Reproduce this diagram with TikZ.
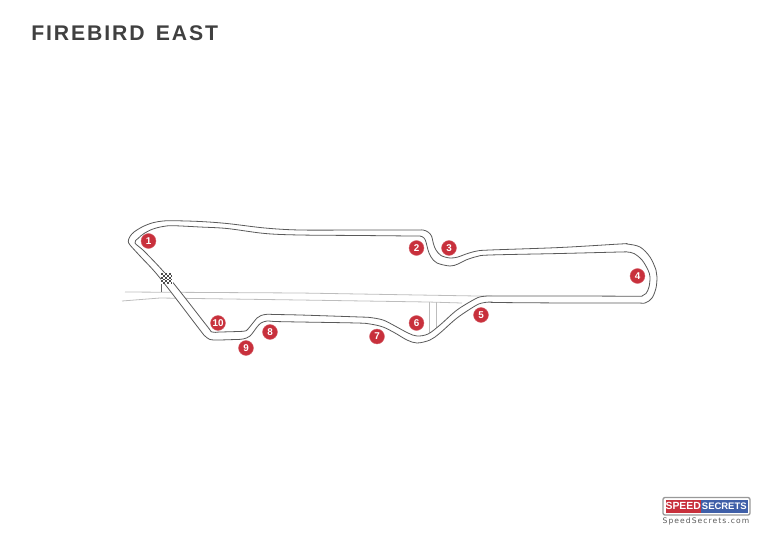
\documentclass[tikz,border=0pt]{standalone}
\usepackage{fontspec}
\setmainfont{Liberation Sans}
\newfontfamily\titlefont[LetterSpace=9]{Liberation Sans}
\newfontfamily\urlfont[LetterSpace=14]{DejaVu Sans}
\definecolor{trackc}{HTML}{5A5A5A}
\definecolor{roadc}{HTML}{BDBDBD}
\definecolor{badgec}{HTML}{C8303C}
\definecolor{logored}{HTML}{C8303C}
\definecolor{logoblue}{HTML}{3F5FA8}
\tikzset{
  track/.style={draw=trackc,line width=0.6pt,fill=white,even odd rule},
  road/.style={draw=roadc,line width=0.6pt},
  badge/.style={circle,fill=badgec,draw=badgec!75!white,line width=0.3pt,minimum size=11.2pt,inner sep=0pt,text=white,font=\fontsize{7.4}{8}\selectfont\bfseries},
  pole/.style={draw=black!60,line width=0.4pt}
}
\begin{document}
\begin{tikzpicture}[x=0.75pt,y=-0.75pt]
\useasboundingbox (0,0) rectangle (768,543);
\node[anchor=west,inner sep=0pt,text=black!75] (title) at (31,33.5) {\titlefont\fontsize{15.9}{18}\selectfont\bfseries FIREBIRD\hspace{2.5pt} EAST};
% side roads
\draw[road] (125,292) -- (300,293) -- (477,296) -- (492,296);
\draw[road] (122,301) -- (160,298) -- (300,300) -- (428,302) -- (462,303);
\draw[road] (429,302) -- (429,334);
\draw[road] (436,302) -- (436,328);
% track band
\path[track]
  plot[smooth cycle,tension=0.55] coordinates {
    (128.3,241) (130,236.5) (134,232) (143,226.5) (153,222.7) (163,221) (173,220.7) (200,221.5) (227,223.5) (265,228) (300,230)
    (360,230) (415,230) (423,230) (428,232) (431.5,236) (433.5,244) (436,250) (441,255.5) (450,258) (458,257) (466,254) (477,251) (490,250)
    (560,247.5) (620,244) (627,244) (640,247) (650,257) (656,270) (657,277) (656,288) (652,298) (645,303) (635,303) (570,303)
    (497,302.5) (490,302) (482,303) (475,306) (457,318) (440,333) (430,340) (417,343) (407,340) (395,333) (383,327) (370,324) (357,323) (300,322)
    (275,321.5) (267,321) (261,323) (257,327) (250,336) (243,339) (235,339.5) (218,340) (210,339.5) (205,336) (200,330) (160,278) (140,256) (130,245)}
  plot[smooth cycle,tension=0.55] coordinates {
    (135,243) (138,238.5) (144,233.5) (153,229) (163,226.5) (173,225.7) (200,227) (227,228.5) (265,233.5) (300,235)
    (360,235.5) (412,236) (420,236) (424,238) (426,242) (428,250) (431,257) (437,263) (450,266) (458,264) (466,260) (477,256.5) (490,255)
    (560,253.5) (620,252) (627,252) (634,253.5) (642,260) (648,270) (650,277) (649,287) (646,293.5) (642,296) (635,296.2) (570,296)
    (497,296) (490,296) (482,296.5) (475,299) (457,310) (440,325) (428,334) (417,336) (408,333) (395,326) (383,320) (370,317.5) (360,317) (300,315)
    (275,314.5) (267,314.3) (261,315.5) (257,318) (248,329) (245,331) (238,331.5) (220,332) (212,332) (207,326) (170,279) (145,252)};
% flag
\draw[pole] (161,283) -- (161,292);
\fill[white] (161,273) rectangle (172.5,284);
\foreach \i in {0,...,5}{\foreach \j in {0,...,5}{
  \pgfmathparse{int(mod(\i+\j,2))}
  \ifnum\pgfmathresult=0
    \fill[black!70] (161+\i*1.9,273+\j*1.85) rectangle ++(1.9,1.85);
  \fi}}
% badges
\node[badge] (t1) at (148.5,241) {1};
\node[badge] (t2) at (416.5,248) {2};
\node[badge] (t3) at (449,248) {3};
\node[badge] (t4) at (637.5,276) {4};
\node[badge] (t5) at (481,315) {5};
\node[badge] (t6) at (416.5,323) {6};
\node[badge] (t7) at (377,336.5) {7};
\node[badge] (t8) at (270,332) {8};
\node[badge] (t9) at (246,348) {9};
\node[badge] (t10) at (218,323) {10};
% logo
\path[draw=black!40,fill=white,line width=1pt,rounded corners=1.5pt] (663,497.5) rectangle (750,515);
\fill[logored] (665.5,499.5) rectangle (701,512.8);
\fill[logoblue] (701,499.5) rectangle (747.5,512.8);
\node[inner sep=0pt,text=white] (speed) at (683.2,506.2) {\fontsize{7.8}{9}\selectfont\bfseries SPEED};
\node[inner sep=0pt,text=white] (secrets) at (724.3,506.2) {\fontsize{7.1}{9}\selectfont\bfseries SECRETS};
\node[inner sep=0pt,text=black!65] (url) at (706,521) {\urlfont\fontsize{5.7}{7}\selectfont SpeedSecrets.com};
\end{tikzpicture}
\end{document}
